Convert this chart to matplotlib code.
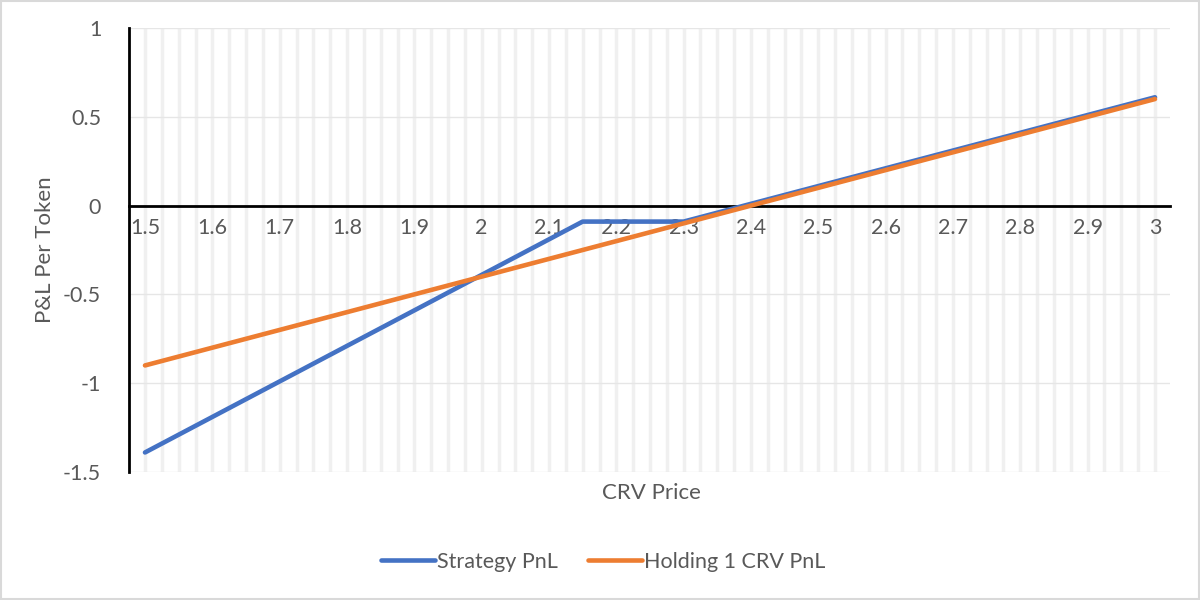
import numpy as np
import matplotlib
matplotlib.use("Agg")
import matplotlib.pyplot as plt
from matplotlib.ticker import MultipleLocator, FixedLocator

# CRV price breakpoints and P&L per token
strategy_price = [1.5, 2.15, 2.3, 3.0]
strategy_pnl = [-1.39, -0.09, -0.09, 0.61]
holding_price = [1.5, 3.0]
holding_pnl = [-0.9, 0.6]

x_tick_labels = ["1.5", "1.6", "1.7", "1.8", "1.9", "2", "2.1", "2.2",
                 "2.3", "2.4", "2.5", "2.6", "2.7", "2.8", "2.9", "3"]
x_ticks = [1.5 + 0.1 * i for i in range(len(x_tick_labels))]
y_ticks = [-1.5, -1, -0.5, 0, 0.5, 1]

text_color = "#595959"
plt.rcParams["font.family"] = ["Lato", "DejaVu Sans"]

fig = plt.figure(figsize=(12, 6), dpi=100)
ax = fig.add_axes([129 / 1200, 1 - 472 / 600, (1170 - 129) / 1200, (472 - 28) / 600])

ax.plot(strategy_price, strategy_pnl, color="#4472C4", lw=3.3, label="Strategy PnL",
        solid_capstyle="round", zorder=3)
ax.plot(holding_price, holding_pnl, color="#ED7D31", lw=3.3, label="Holding 1 CRV PnL",
        solid_capstyle="round", zorder=4)

ax.set_xlim(1.5 - 16 / 673.3, 3.0 + 15 / 673.3)
ax.set_ylim(-1.5, 1)

# light vertical gridlines at each category step
ax.xaxis.set_minor_locator(MultipleLocator(0.025))
ax.xaxis.grid(True, which="both", color="#f0f0f0", lw=2.5, zorder=0)
ax.yaxis.grid(True, color="#e6e6e6", lw=1, zorder=0)
ax.set_axisbelow(True)

ax.xaxis.set_major_locator(FixedLocator(x_ticks))
ax.set_xticklabels(x_tick_labels)
ax.set_yticks(y_ticks)
ax.set_yticklabels(["-1.5", "-1", "-0.5", "0", "0.5", "1"])

ax.spines["bottom"].set_position(("data", 0))
ax.spines["bottom"].set_linewidth(2)
ax.spines["left"].set_linewidth(2)
ax.spines["top"].set_visible(False)
ax.spines["right"].set_visible(False)

ax.tick_params(axis="x", which="both", length=0, pad=9, labelsize=15.5, labelcolor=text_color)
ax.tick_params(axis="y", length=0, pad=20, labelsize=15.5, labelcolor=text_color)

fig.text(651 / 1200, 1 - 493 / 600, "CRV Price", ha="center", va="center",
         fontsize=16, color=text_color)
fig.text(45 / 1200, 1 - 250 / 600, "P&L Per Token", ha="center", va="center",
         rotation=90, fontsize=16, color=text_color)

fig.legend(loc="center", bbox_to_anchor=(0.503, 1 - 562 / 600), ncol=2, frameon=False,
           fontsize=15.5, labelcolor=text_color, handlelength=2.5, handletextpad=0.1,
           columnspacing=1.4)

# thin grey frame round the whole picture
fig.patches.append(plt.Rectangle((0.001, 0.002), 0.998, 0.996, transform=fig.transFigure,
                                 fill=False, edgecolor="#d9d9d9", lw=1.5))

fig.savefig("out.png", dpi=100)
